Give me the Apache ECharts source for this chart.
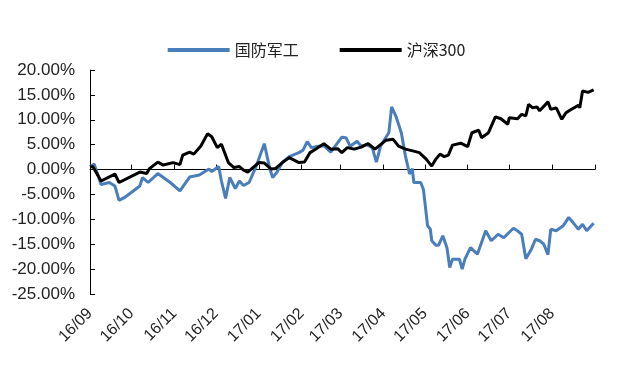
<!DOCTYPE html>
<html>
<head>
<meta charset="utf-8">
<script src="https://cdn.jsdelivr.net/npm/echarts@6/dist/echarts.min.js"></script>
<style>html,body{margin:0;padding:0;background:#fff}#c{width:633px;height:368px}</style>
</head>
<body>
<div id="c"></div>
<script>
const seriesNames = ['国防军工', '沪深300'];
const yTicks = [-25, -20, -15, -10, -5, 0, 5, 10, 15, 20];

const defenseDates = ['2016-09-01','2016-09-04','2016-09-09','2016-09-15','2016-09-19','2016-09-22','2016-09-26','2016-10-07','2016-10-09','2016-10-13','2016-10-20','2016-10-29','2016-11-05','2016-11-12','2016-11-19','2016-11-26','2016-11-28','2016-12-03','2016-12-05','2016-12-08','2016-12-11','2016-12-15','2016-12-18','2016-12-21','2016-12-25','2016-12-30','2017-01-05','2017-01-09','2017-01-11','2017-01-14','2017-01-18','2017-01-23','2017-01-30','2017-02-02','2017-02-05','2017-02-08','2017-02-13','2017-02-17','2017-02-22','2017-02-26','2017-03-02','2017-03-05','2017-03-08','2017-03-13','2017-03-16','2017-03-20','2017-03-24','2017-03-27','2017-03-30','2017-04-02','2017-04-05','2017-04-07','2017-04-10','2017-04-14','2017-04-17','2017-04-20','2017-04-22','2017-04-23','2017-04-28','2017-04-30','2017-05-03','2017-05-05','2017-05-06','2017-05-09','2017-05-11','2017-05-14','2017-05-17','2017-05-19','2017-05-21','2017-05-26','2017-05-28','2017-05-30','2017-06-03','2017-06-08','2017-06-14','2017-06-18','2017-06-23','2017-06-27','2017-07-04','2017-07-07','2017-07-10','2017-07-13','2017-07-17','2017-07-20','2017-07-23','2017-07-26','2017-07-29','2017-07-31','2017-08-04','2017-08-09','2017-08-13','2017-08-16','2017-08-20','2017-08-23','2017-08-26','2017-08-31'];
const defenseValues = [0.6,1.1,-3.0,-2.6,-3.3,-6.2,-5.6,-3.3,-1.6,-2.6,-0.8,-2.6,-4.3,-1.5,-1.1,0.1,-0.4,0.6,-2.3,-5.8,-1.6,-3.8,-2.3,-3.2,-2.6,0.6,5.2,0.1,-1.6,-0.6,1.4,2.6,3.4,3.9,5.6,4.4,4.7,4.8,3.5,5.0,6.5,6.4,4.7,5.7,4.7,5.0,4.4,1.5,4.7,6.1,7.4,12.6,10.8,7.4,2.7,-0.9,0.2,-2.6,-2.6,-4.0,-11.3,-12.0,-14.3,-15.2,-15.2,-13.3,-15.7,-19.7,-18.0,-18.0,-20.0,-18.0,-15.7,-17.0,-12.3,-14.3,-13.0,-13.7,-11.8,-12.3,-13.0,-17.9,-16.0,-14.0,-14.3,-15.0,-17.1,-12.0,-12.3,-11.3,-9.6,-10.6,-12.0,-11.0,-12.3,-10.8];

const hs300Dates = ['2016-09-01','2016-09-03','2016-09-09','2016-09-19','2016-09-22','2016-10-07','2016-10-12','2016-10-14','2016-10-20','2016-10-24','2016-10-31','2016-11-05','2016-11-07','2016-11-12','2016-11-15','2016-11-20','2016-11-25','2016-11-26','2016-11-28','2016-12-02','2016-12-05','2016-12-10','2016-12-14','2016-12-18','2016-12-21','2016-12-24','2017-01-01','2017-01-05','2017-01-10','2017-01-13','2017-01-18','2017-01-23','2017-01-30','2017-02-03','2017-02-07','2017-02-11','2017-02-17','2017-02-22','2017-02-27','2017-03-02','2017-03-06','2017-03-11','2017-03-16','2017-03-21','2017-03-26','2017-04-03','2017-04-08','2017-04-12','2017-04-17','2017-04-23','2017-04-27','2017-05-02','2017-05-06','2017-05-09','2017-05-12','2017-05-15','2017-05-18','2017-05-21','2017-05-27','2017-06-01','2017-06-04','2017-06-09','2017-06-11','2017-06-16','2017-06-21','2017-06-25','2017-06-30','2017-07-01','2017-07-07','2017-07-10','2017-07-13','2017-07-15','2017-07-18','2017-07-21','2017-07-23','2017-07-29','2017-07-31','2017-08-04','2017-08-08','2017-08-11','2017-08-15','2017-08-20','2017-08-21','2017-08-23','2017-08-27','2017-08-31'];
const hs300Values = [0.5,0.6,-2.3,-0.9,-2.6,-0.5,-0.8,0.2,1.5,0.9,1.4,1.0,2.9,3.5,3.1,4.7,7.2,7.6,6.6,4.4,5.1,1.4,0.4,0.6,-0.1,-0.5,1.4,1.3,0.1,0.2,1.4,2.4,1.4,1.5,3.4,4.1,5.2,4.1,4.2,3.4,4.4,4.1,4.5,5.2,4.1,5.9,6.1,4.7,4.1,3.7,3.4,2.1,0.7,2.1,3.1,2.6,2.9,4.9,5.3,4.6,7.4,7.9,6.4,7.4,10.6,10.2,9.1,10.4,10.2,11.1,10.8,13.1,12.4,12.6,11.8,13.6,12.1,12.4,10.1,11.4,12.1,12.9,12.4,15.8,15.5,16.0];

// calendar-day category axis (2016-09-01 .. 2017-09-01)
const days = [];
for (let i = 0; i < 366; i++) {
  const d = new Date(Date.UTC(2016, 8, 1) + i * 86400000);
  days.push(d.toISOString().slice(0, 10));
}
function toPairs(dates, vals) {
  return dates.map((d, i) => [days.indexOf(d), vals[i]]);
}
const isMonthStart = (idx, val) => val.slice(8) === '01';

const chart = echarts.init(document.getElementById('c'));
chart.setOption({
  animation: false,
  backgroundColor: '#ffffff',
  textStyle: { fontFamily: '"Liberation Sans", Arial, "Noto Sans CJK SC", sans-serif' },
  legend: {
    top: 37, left: 'center',
    icon: 'rect', itemWidth: 62, itemHeight: 4, itemGap: 41,
    textStyle: { fontSize: 16, color: '#222', fontFamily: '"Noto Sans CJK SC", "Liberation Sans", sans-serif' },
    data: seriesNames
  },
  grid: { left: 90, right: 38, top: 70, bottom: 74 },
  xAxis: {
    type: 'category', data: days, boundaryGap: false,
    axisLine: { lineStyle: { color: '#000', width: 1 } },
    axisTick: { inside: true, length: 5, interval: isMonthStart, lineStyle: { color: '#000' } },
    axisLabel: {
      interval: isMonthStart, rotate: 45, fontSize: 16, color: '#222', margin: 17,
      formatter: v => v === '2017-09-01' ? '' : v.slice(2, 4) + '/' + v.slice(5, 7)
    },
    splitLine: { show: false }
  },
  yAxis: {
    type: 'value', min: yTicks[0], max: yTicks[yTicks.length - 1], interval: 5,
    axisLine: { show: true, lineStyle: { color: '#000', width: 1 } },
    axisTick: { show: true, inside: true, length: 5, lineStyle: { color: '#000' } },
    axisLabel: { fontSize: 17, color: '#222', margin: 15, formatter: v => v.toFixed(2) + '%' },
    splitLine: { show: false }
  },
  series: [
    { name: seriesNames[0], type: 'line', data: toPairs(defenseDates, defenseValues), showSymbol: false, symbol: 'none',
      color: '#4a7ebb', lineStyle: { width: 3, color: '#4a7ebb' } },
    { name: seriesNames[1], type: 'line', data: toPairs(hs300Dates, hs300Values), showSymbol: false, symbol: 'none',
      color: '#000000', lineStyle: { width: 3, color: '#000000' } }
  ]
});
</script>
</body>
</html>
